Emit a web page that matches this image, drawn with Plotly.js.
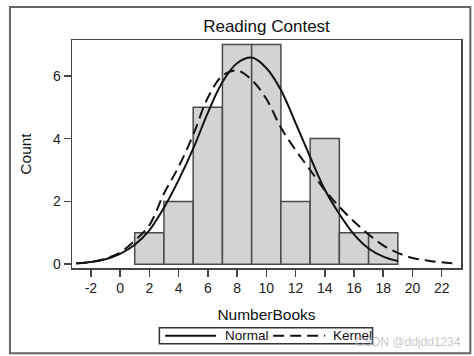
<!DOCTYPE html>
<html>
<head>
<meta charset="utf-8">
<script src="https://cdn.plot.ly/plotly-3.0.1.min.js"></script>
<style>
html,body{margin:0;padding:0;background:#fff;}
#chart{width:474px;height:356px;}
</style>
</head>
<body>
<div id="chart"></div>
<script>
// Histogram bins (centers) and counts
const binCenters = [2, 4, 6, 8, 10, 12, 14, 16, 18];
const binCounts  = [1, 2, 5, 7, 7, 2, 4, 1, 1];

// Normal density curve (scaled to counts)
const normalX = [-3,-2,-1,0,1,2,3,4,5,6,7,8,9,10,11,12,13,14,15,16,17,18,19];
const normalY = [0.03,0.07,0.16,0.33,0.62,1.08,1.8,2.68,3.68,4.82,5.8,6.4,6.58,6.25,5.55,4.5,3.42,2.38,1.6,0.95,0.5,0.24,0.1];

// Kernel density curve (scaled to counts)
const kernelX = [-3,-2,-1,0,1,2,3,4,5,6,7,8,9,10,11,12,13,14,15,16,17,18,19,20,21,22,23];
const kernelY = [0.02,0.07,0.18,0.37,0.75,1.24,2.25,3.1,4.12,5.3,6.0,6.17,5.87,5.27,4.35,3.64,3.0,2.36,1.83,1.36,0.95,0.6,0.36,0.2,0.12,0.06,0.02];

const xTicks = [-2,0,2,4,6,8,10,12,14,16,18,20,22];
const yTicks = [0,2,4,6];
const legendNames = ['Normal', 'Kernel'];

const font = "Liberation Sans, Arial, sans-serif";
const DASH = '11px,6px';

const traces = [
  {
    type: 'bar', x: binCenters, y: binCounts, width: 2,
    marker: {color: '#d3d3d3', line: {color: '#4a4a4a', width: 1.5}},
    showlegend: false, hoverinfo: 'x+y'
  },
  {
    type: 'scatter', mode: 'lines', name: legendNames[0], x: normalX, y: normalY,
    line: {color: '#111', width: 2, shape: 'spline', smoothing: 1}
  },
  {
    type: 'scatter', mode: 'lines', name: legendNames[1], x: kernelX, y: kernelY,
    line: {color: '#111', width: 2, dash: DASH, shape: 'spline', smoothing: 1}
  }
];

// legend drawn as paper-referenced shapes/annotations
const legY = -0.2973;
const layout = {
  width: 474, height: 356,
  margin: {l: 72, r: 13.3, t: 40.3, b: 88.3, pad: 0},
  paper_bgcolor: '#fff', plot_bgcolor: '#fff',
  font: {family: font, size: 14, color: '#222'},
  title: {text: 'Reading Contest', font: {family: font, size: 17, color: '#111'},
          x: 0.5, xref: 'paper', xanchor: 'center', y: 0.927, yanchor: 'middle'},
  xaxis: {
    range: [-3.29, 23.32], tickvals: xTicks, ticktext: xTicks.map(String),
    ticks: 'outside', ticklen: 7, tickwidth: 1.5, tickcolor: '#444',
    showline: true, mirror: true, linecolor: '#444', linewidth: 1.5,
    showgrid: false, zeroline: false, automargin: false,
    tickfont: {family: font, size: 14, color: '#222'},
    title: {text: 'NumberBooks', font: {family: font, size: 15.5, color: '#111'}, standoff: 14}
  },
  yaxis: {
    range: [-0.12, 7.14], tickvals: yTicks, ticktext: yTicks.map(String),
    ticks: 'outside', ticklen: 7, tickwidth: 1.5, tickcolor: '#444',
    showline: true, mirror: true, linecolor: '#444', linewidth: 1.5,
    showgrid: false, zeroline: false, automargin: false,
    tickfont: {family: font, size: 14, color: '#222'},
    title: {text: 'Count', font: {family: font, size: 15.5, color: '#111'}}
  },
  bargap: 0,
  showlegend: false,
  shapes: [
    {type: 'rect', xref: 'paper', yref: 'paper', x0: -0.1595, x1: 1.024, y0: -0.374, y1: 1.145,
     line: {color: '#666', width: 2}, fillcolor: 'rgba(0,0,0,0)', layer: 'below'},
    {type: 'rect', xref: 'paper', yref: 'paper', x0: 0.2246, x1: 0.7726, y0: -0.3325, y1: -0.2621,
     line: {color: '#333', width: 1.5}, fillcolor: '#fff', layer: 'above'},
    {type: 'line', xref: 'paper', yref: 'paper', x0: 0.2393, x1: 0.3705, y0: legY, y1: legY,
     line: {color: '#111', width: 2}},
    {type: 'line', xref: 'paper', yref: 'paper', x0: 0.5171, x1: 0.6509, y0: legY, y1: legY,
     line: {color: '#111', width: 2, dash: DASH}}
  ],
  annotations: [
    {text: legendNames[0], xref: 'paper', yref: 'paper', x: 0.3877, y: legY,
     xanchor: 'left', yanchor: 'middle', showarrow: false,
     font: {family: font, size: 13.5, color: '#111'}},
    {text: legendNames[1], xref: 'paper', yref: 'paper', x: 0.6663, y: legY,
     xanchor: 'left', yanchor: 'middle', showarrow: false,
     font: {family: font, size: 13.5, color: '#111'}},
    {text: 'CSDN @ddjdd1234', xref: 'paper', yref: 'paper', x: 1.0045, y: -0.325,
     xanchor: 'right', yanchor: 'middle', showarrow: false,
     font: {family: font, size: 12, color: 'rgba(190,190,190,0.85)'}}
  ]
};

Plotly.newPlot('chart', traces, layout, {displayModeBar: false, staticPlot: true});
</script>
</body>
</html>
